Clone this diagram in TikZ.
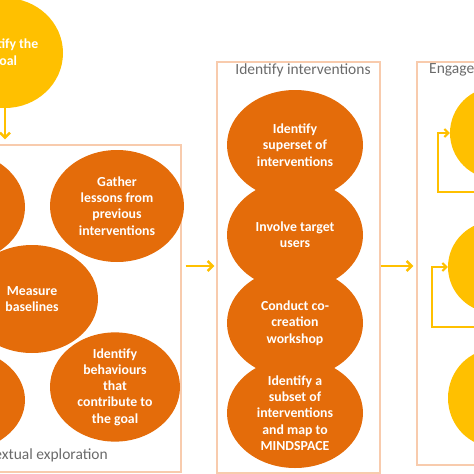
\documentclass[tikz,border=0pt]{standalone}
\usepackage{fontspec}
\setmainfont{Carlito}
\usetikzlibrary{shapes.geometric,arrows.meta}
\definecolor{orng}{HTML}{E46C0A}
\definecolor{yel}{HTML}{FFC000}
\definecolor{peach}{HTML}{F8CBAD}
\definecolor{ttl}{HTML}{6A6A6A}
\begin{document}
\begin{tikzpicture}[x=1pt,y=-1pt,
  blob/.style={ellipse,fill=orng,draw=none,inner sep=0pt,text=white,
    font=\bfseries\fontsize{13.8}{16.3}\selectfont,align=center},
  yblob/.style={ellipse,fill=yel,draw=none,inner sep=0pt,text=white,
    font=\bfseries\fontsize{13.8}{17}\selectfont,align=center},
  frame/.style={draw=peach,line width=1.4pt,inner sep=0pt},
  arr/.style={draw=yel,line width=2.4pt,-{Straight Barb[length=5pt,width=10pt]}},
  looparr/.style={draw=yel,line width=2pt,-{Straight Barb[length=4pt,width=8pt]}},
  ttlf/.style={text=ttl,inner sep=0pt,font=\fontsize{15.5}{18}\selectfont}]
\useasboundingbox (0,0) rectangle (474,474);
\clip (0,0) rectangle (474,474);
% frames
\node[frame,minimum width=191pt,minimum height=327pt] (ctx) at (85.5,308.5) {};
\node[frame,minimum width=163pt,minimum height=411pt] (int) at (298.5,267.5) {};
\node[frame,minimum width=160pt,minimum height=403pt] (eng) at (497,263.5) {};
% goal
\node[yblob,minimum width=116pt,minimum height=110pt] (goal) at (5,53) {Identify the\\goal};
% contextual exploration
\node[blob,minimum width=134pt,minimum height=112pt] (c1) at (-42,207) {};
\node[blob,minimum width=134pt,minimum height=112pt] (gather) at (117,206) {Gather\\lessons from\\previous\\interventions};
\node[blob,minimum width=132pt,minimum height=108pt] (measure) at (32,299) {Measure\\baselines};
\node[blob,minimum width=134pt,minimum height=104pt] (c4) at (-42,400) {};
\node[blob,minimum width=130pt,minimum height=104pt] (behav) at (115,387) {Identify\\behaviours\\that\\contribute to\\the goal};
% interventions
\node[blob,minimum width=136pt,minimum height=110pt] (m1) at (295,145) {Identify\\superset of\\interventions};
\node[blob,minimum width=136pt,minimum height=110pt] (m2) at (295,235) {Involve target\\users};
\node[blob,minimum width=136pt,minimum height=110pt] (m3) at (295,323) {Conduct co-\\creation\\workshop};
\node[blob,minimum width=136pt,minimum height=110pt] (m4) at (295,413) {Identify a\\subset of\\interventions\\and map to\\MINDSPACE};
% engage
\node[yblob,minimum width=92pt,minimum height=92pt] (e1) at (496,133) {};
\node[yblob,minimum width=94pt,minimum height=92pt] (e2) at (495,267) {};
\node[yblob,minimum width=94pt,minimum height=98pt] (e3) at (495,398) {};
% titles
\node[ttlf,anchor=base east] (t1) at (108,459) {Contextual exploration};
\node[ttlf] (t2) at (303,70) {Identify interventions};
\node[ttlf,anchor=west] (t3) at (429,70) {Engage};
% arrows
\coordinate (ya) at (0,266);
\draw[arr,shorten >=5pt] (goal.south) -- (ctx.north -| goal.south);
\draw[arr,shorten <=4pt,shorten >=2pt] (ctx.east |- ya) -- (int.west |- ya);
\draw[arr,shorten >=3pt] (int.east |- ya) -- (eng.west |- ya);
\coordinate (l1) at (480,192);
\coordinate (l2) at (480,327);
\draw[looparr] (l1) -| ([xshift=-12pt]e1.west) -- (e1.west);
\draw[looparr] (l2) -| ([xshift=-16pt]e2.west) -- (e2.west);
\end{tikzpicture}
\end{document}
